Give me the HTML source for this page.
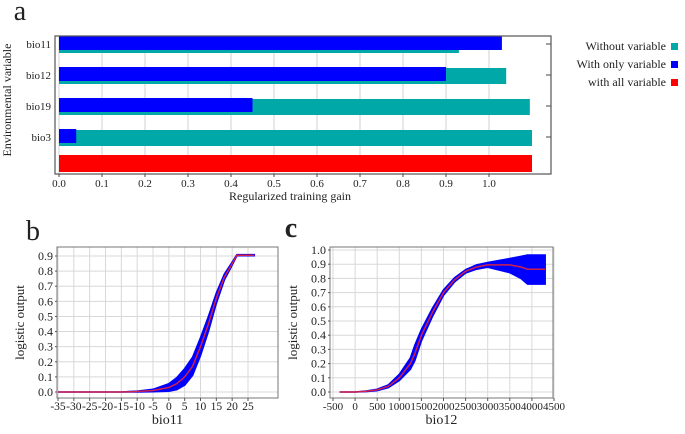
<!DOCTYPE html>
<html><head><meta charset="utf-8"><style>
html,body{margin:0;padding:0;background:#fff;}
svg text{font-family:"Liberation Serif",serif;fill:#222;}
</style></head><body>
<svg id="s" width="685" height="429" xmlns="http://www.w3.org/2000/svg"></svg>
<script>
// Panel a data
const varNames = ["bio11","bio12","bio19","bio3"];
const onlyGain = [1.03, 0.90, 0.45, 0.04];
const withoutGain = [0.93, 1.04, 1.095, 1.10];
const allGain = 1.10;
const aTicks = [0.0,0.1,0.2,0.3,0.4,0.5,0.6,0.7,0.8,0.9,1.0];
// Panel b data
const bX = [-35,-15,-10,-5,0,2.5,5,7.5,10,12.5,15,17.5,20,21.5,27];
const bMean = [0,0,0.003,0.01,0.03,0.055,0.1,0.17,0.3,0.45,0.62,0.76,0.85,0.905,0.905];
const bBand = [0,0,0.003,0.008,0.025,0.04,0.055,0.06,0.06,0.05,0.035,0.02,0.01,0.004,0.004];
const bXTicks = [-35,-30,-25,-20,-15,-10,-5,0,5,10,15,20,25];
const bYTicks = [0,0.1,0.2,0.3,0.4,0.5,0.6,0.7,0.8,0.9];
// Panel c data
const cX = [-350,0,250,500,750,1000,1250,1350,1500,1750,2000,2250,2500,2750,3000,3500,3750,3900,4300];
const cMean = [0,0,0.005,0.015,0.04,0.1,0.2,0.27,0.4,0.56,0.7,0.79,0.85,0.88,0.895,0.895,0.88,0.865,0.865];
const cUpper = [0,0,0.007,0.02,0.05,0.125,0.24,0.33,0.44,0.59,0.72,0.805,0.862,0.895,0.912,0.94,0.955,0.965,0.965];
const cLower = [0,0,0.003,0.01,0.03,0.08,0.16,0.22,0.36,0.53,0.68,0.775,0.838,0.865,0.878,0.84,0.8,0.76,0.76];
const cXTicks = [-500,0,500,1000,1500,2000,2500,3000,3500,4000,4500];
const cYTicks = [0,0.1,0.2,0.3,0.4,0.5,0.6,0.7,0.8,0.9,1.0];

const S = document.getElementById('s');
const NS = "http://www.w3.org/2000/svg";
function mk(tag, attrs, parent){const e=document.createElementNS(NS,tag);for(const k in attrs)e.setAttribute(k,attrs[k]);(parent||S).appendChild(e);return e;}
function txt(x,y,s,size,anchor,parent){const t=mk('text',{x:x,y:y,'font-size':size,'text-anchor':anchor||'middle'},parent);t.textContent=s;return t;}

// ---------- Panel a ----------
const gA = mk('g',{});


const ax = v => 59 + v*430;
const rowY = [44, 75, 106, 137];
const aL=55, aR=551, aT=36, aB=174;
for (const v of aTicks){ const l=mk('line',{x1:ax(v),x2:ax(v),y1:aT,y2:aB,stroke:'#d0d0d0','stroke-width':1},gA);  }
for (let i=0;i<varNames.length;i++){
  const y=rowY[i];
  const t=mk('rect',{x:ax(0),y:y-7,width:ax(withoutGain[i])-ax(0),height:16,fill:'#00a8a8'},gA);
  
  
  const b=mk('rect',{x:ax(0),y:y-8,width:ax(onlyGain[i])-ax(0),height:14,fill:'#0000ff'},gA);
  
  
  const lb=txt(51,y+4,varNames[i],11,'end',gA);
  
  
  mk('line',{x1:aR-5,x2:aR,y1:y,y2:y,stroke:'#444'},gA);
}
const red=mk('rect',{x:ax(0),y:155,width:ax(allGain)-ax(0),height:17,fill:'#ff0000'},gA);


const fr=mk('rect',{x:aL,y:aT,width:aR-aL,height:aB-aT,fill:'none',stroke:'#555','stroke-width':1.2},gA);


for (const v of aTicks){ const t=txt(ax(v),187,v.toFixed(1),11,'middle',gA);   mk('line',{x1:ax(v),x2:ax(v),y1:aB,y2:aB+3,stroke:'#444'},gA);}
let t1=txt(290,200,'Regularized training gain',12,'middle',gA);

let t2=txt(0,0,'Environmental variable',12,'middle',gA);
t2.setAttribute('transform','translate(11,100) rotate(-90)');

let pa=txt(20,20,'a',28,'middle');

// legend
const leg=[['Without variable','#00a8a8',46],['With only variable','#0000ff',64],['with all variable','#ff0000',82]];
for(const [n,c,y] of leg){
  const lt=txt(666,y+4,n,12,'end');
  
  const sq=mk('rect',{x:671,y:y-3,width:7,height:7,fill:c});
  
}

// ---------- response curves ----------
function curvePanel(name,box,xd,yd,xs,mean,upper,lower,xt,yt,xlabel,fmtX,xfs){
  const g=mk('g',{});
  
  
  const X=v=>box.x0+(v-xd[0])/(xd[1]-xd[0])*(box.x1-box.x0);
  const Y=v=>box.y0-(v-yd[0])/(yd[1]-yd[0])*(box.y0-box.y1);
  mk('rect',{x:box.L,y:box.T,width:box.R-box.L,height:box.B-box.T,fill:'#fff'},g);
  for(const v of xt){mk('line',{x1:X(v),x2:X(v),y1:box.T,y2:box.B,stroke:'#d8d8d8'},g);}
  for(const v of yt){mk('line',{x1:box.L,x2:box.R,y1:Y(v),y2:Y(v),stroke:'#d8d8d8'},g);}
  let d='';
  for(let i=0;i<xs.length;i++) d+=(i?'L':'M')+X(xs[i]).toFixed(1)+','+Y(upper[i]).toFixed(1);
  for(let i=xs.length-1;i>=0;i--) d+='L'+X(xs[i]).toFixed(1)+','+Y(lower[i]).toFixed(1);
  const band=mk('path',{d:d+'Z',fill:'#0000ff',stroke:'#0000ff','stroke-width':1.5},g);
  
  let m='';
  for(let i=0;i<xs.length;i++) m+=(i?'L':'M')+X(xs[i]).toFixed(1)+','+Y(mean[i]).toFixed(1);
  const ln=mk('path',{d:m,fill:'none',stroke:'#d0204a','stroke-width':1.5},g);
  
  const f=mk('rect',{x:box.L,y:box.T,width:box.R-box.L,height:box.B-box.T,fill:'none',stroke:'#777'},g);
  
  for(const v of xt){const t=txt(X(v),box.B+12,fmtX(v),xfs,'middle',g);mk('line',{x1:X(v),x2:X(v),y1:box.B,y2:box.B+3,stroke:'#555'},g);}
  for(const v of yt){const t=txt(box.L-4,Y(v)+4,v.toFixed(1),12,'end',g);mk('line',{x1:box.L-2,x2:box.L,y1:Y(v),y2:Y(v),stroke:'#555'},g);}
  const xl=txt((box.L+box.R)/2,box.B+26,xlabel,14,'middle',g);
  
  const yl=txt(0,0,'logistic output',13,'middle',g);
  yl.setAttribute('transform','translate('+(box.L-33)+','+((box.T+box.B)/2)+') rotate(-90)');
  
}
const bUp=bMean.map((v,i)=>v+bBand[i]), bLo=bMean.map((v,i)=>Math.max(0,v-bBand[i]));
curvePanel('response-curve-bio11',{L:57,R:278,T:247,B:398,x0:58,x1:248,y0:392,y1:256},[-35,25],[0,0.9],bX,bMean,bUp,bLo,bXTicks,bYTicks,'bio11',v=>String(v),11.5);
curvePanel('response-curve-bio12',{L:330,R:553,T:247,B:398,x0:333,x1:554,y0:392,y1:250},[-500,4500],[0,1.0],cX,cMean,cUpper,cLower,cXTicks,cYTicks,'bio12',v=>String(v),11);
let pb=txt(33,240,'b',28,'middle');
let pc=txt(291,237,'c',28,'middle');
pc.setAttribute('font-weight','bold');
</script>
</body></html>
